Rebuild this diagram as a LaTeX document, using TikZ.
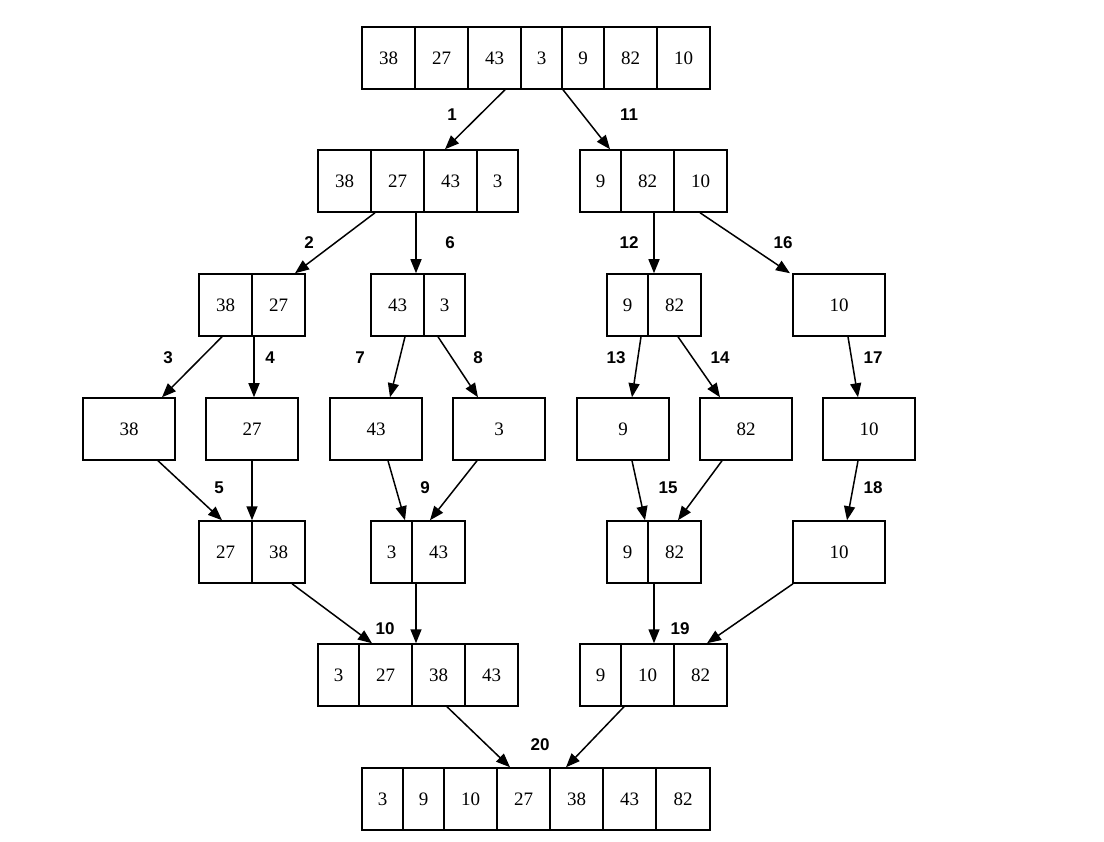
\documentclass[tikz,border=0pt]{standalone}
\usepackage{fontspec}
\setmainfont{Liberation Serif}
\newfontfamily\lab{Liberation Sans}
\usetikzlibrary{arrows.meta}
\begin{document}
\begin{tikzpicture}[x=1pt,y=-1pt,
  cell/.style={draw,line width=1.5pt,minimum height=62pt,inner sep=0pt,font=\fontsize{19}{21}\selectfont},
  lbl/.style={font=\lab\bfseries\fontsize{17}{19}\selectfont,inner sep=0pt},
  e/.style={line width=1.5pt,-{Triangle[length=14pt,width=11pt]}}]
\useasboundingbox[fill=white] (0,0) rectangle (1104,842);
\newcommand{\cl}[5]{\node[cell,minimum width={#3-#2}] (#1) at ({(#2+#3)/2},#4) {#5};}
% row 0
\cl{t1}{362}{415}{58}{38}\cl{t2}{415}{468}{58}{27}\cl{t3}{468}{521}{58}{43}\cl{t4}{521}{562}{58}{3}
\cl{t5}{562}{604}{58}{9}\cl{t6}{604}{657}{58}{82}\cl{t7}{657}{710}{58}{10}
% row 1
\cl{a1}{318}{371}{181}{38}\cl{a2}{371}{424}{181}{27}\cl{a3}{424}{477}{181}{43}\cl{a4}{477}{518}{181}{3}
\cl{b1}{580}{621}{181}{9}\cl{b2}{621}{674}{181}{82}\cl{b3}{674}{727}{181}{10}
% row 2
\cl{c1}{199}{252}{305}{38}\cl{c2}{252}{305}{305}{27}
\cl{d1}{371}{424}{305}{43}\cl{d2}{424}{465}{305}{3}
\cl{e1}{607}{648}{305}{9}\cl{e2}{648}{701}{305}{82}
\cl{f}{793}{885}{305}{10}
% row 3
\cl{g1}{83}{175}{429}{38}\cl{g2}{206}{298}{429}{27}\cl{g3}{330}{422}{429}{43}\cl{g4}{453}{545}{429}{3}
\cl{g5}{577}{669}{429}{9}\cl{g6}{700}{792}{429}{82}\cl{g7}{823}{915}{429}{10}
% row 4
\cl{h1}{199}{252}{552}{27}\cl{h2}{252}{305}{552}{38}
\cl{i1}{371}{412}{552}{3}\cl{i2}{412}{465}{552}{43}
\cl{j1}{607}{648}{552}{9}\cl{j2}{648}{701}{552}{82}
\cl{k}{793}{885}{552}{10}
% row 5
\cl{m1}{318}{359}{675}{3}\cl{m2}{359}{412}{675}{27}\cl{m3}{412}{465}{675}{38}\cl{m4}{465}{518}{675}{43}
\cl{n1}{580}{621}{675}{9}\cl{n2}{621}{674}{675}{10}\cl{n3}{674}{727}{675}{82}
% row 6
\cl{p1}{362}{403}{799}{3}\cl{p2}{403}{444}{799}{9}\cl{p3}{444}{497}{799}{10}\cl{p4}{497}{550}{799}{27}
\cl{p5}{550}{603}{799}{38}\cl{p6}{603}{656}{799}{43}\cl{p7}{656}{710}{799}{82}
% edges
\newcommand{\ed}[4]{\draw[e] ([xshift=#2pt]#1.south) -- ([xshift=#4pt]#3.north);}
\ed{t3}{10.5}{a3}{-5.5}
\ed{t5}{-20}{b1}{9.5}
\ed{a2}{-22.5}{c2}{16.5}
\ed{a2}{18.5}{d1}{18.5}
\ed{b2}{6.5}{e2}{-20.5}
\ed{b3}{-0.5}{f}{-49}
\ed{c1}{-3.5}{g1}{33}
\ed{c2}{-24.5}{g2}{2}
\ed{d1}{7.5}{g3}{14}
\ed{d2}{-6.5}{g4}{-21}
\ed{e2}{-33.5}{g5}{9}
\ed{e2}{3.5}{g6}{-26}
\ed{f}{9}{g7}{-11}
\ed{g1}{29}{h1}{-3.5}
\ed{g2}{0}{h1}{26.5}
\ed{g3}{12}{i1}{13.5}
\ed{g4}{-22}{i2}{-8.5}
\ed{g5}{9}{j1}{17.5}
\ed{g6}{-24}{j2}{3.5}
\ed{g7}{-11}{k}{8}
\ed{h2}{13.5}{m2}{-13.5}
\ed{i2}{-22.5}{m3}{-22.5}
\ed{j2}{-20.5}{n2}{6.5}
\ed{k}{-46}{n3}{6.5}
\ed{m3}{8.5}{p4}{-13.5}
\ed{n2}{-23.5}{p5}{-10.5}
% labels
\node[lbl] (l1) at (452,115) {1};
\node[lbl] (l11) at (629,115) {11};
\node[lbl] (l2) at (309,243) {2};
\node[lbl] (l6) at (450,243) {6};
\node[lbl] (l12) at (629,243) {12};
\node[lbl] (l16) at (783,243) {16};
\node[lbl] (l3) at (168,358) {3};
\node[lbl] (l4) at (270,358) {4};
\node[lbl] (l7) at (360,358) {7};
\node[lbl] (l8) at (478,358) {8};
\node[lbl] (l13) at (616,358) {13};
\node[lbl] (l14) at (720,358) {14};
\node[lbl] (l17) at (873,358) {17};
\node[lbl] (l5) at (219,488) {5};
\node[lbl] (l9) at (425,488) {9};
\node[lbl] (l15) at (668,488) {15};
\node[lbl] (l18) at (873,488) {18};
\node[lbl] (l10) at (385,629) {10};
\node[lbl] (l19) at (680,629) {19};
\node[lbl] (l20) at (540,745) {20};
\end{tikzpicture}
\end{document}
